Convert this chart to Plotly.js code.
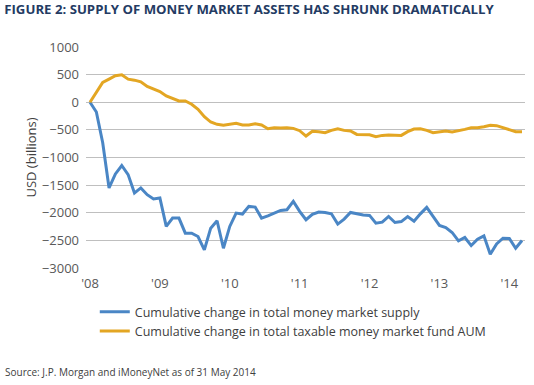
<!DOCTYPE html>
<html>
<head>
<meta charset="utf-8">
<script src="https://cdn.plot.ly/plotly-3.0.1.min.js"></script>
<style>html,body{margin:0;padding:0;background:#fff;}#chart{width:534px;height:385px;}</style>
</head>
<body>
<div id="chart"></div>
<script>
// Data points (sequential observations, Jan 2008 onward)
var supplyChange = [0,-176,-733,-1551,-1297,-1145,-1309,-1642,-1551,-1673,-1751,-1733,-2248,-2097,-2097,-2370,-2370,-2430,-2673,-2279,-2145,-2643,-2248,-2006,-2024,-1885,-1897,-2097,-2055,-2006,-1958,-1945,-1794,-1976,-2127,-2030,-1988,-1994,-2018,-2206,-2115,-1994,-2024,-2042,-2048,-2188,-2170,-2067,-2176,-2160,-2070,-2155,-2020,-1903,-2067,-2230,-2267,-2357,-2509,-2448,-2594,-2479,-2418,-2751,-2563,-2460,-2467,-2642,-2503];
var aumChange = [0,176,358,418,479,497,418,400,370,285,236,194,115,67,24,24,-36,-127,-261,-358,-400,-418,-406,-382,-412,-412,-388,-412,-479,-461,-467,-461,-473,-515,-612,-527,-533,-552,-509,-479,-509,-521,-582,-588,-588,-624,-600,-594,-594,-600,-533,-485,-480,-509,-552,-540,-521,-540,-521,-491,-461,-461,-442,-418,-424,-461,-509,-533,-533];
var tickPositions = [0,11,22,33,44,55,66];
var tickLabels = ["'08","'09","'10","'11","'12","'13","'14"];
var seriesNames = ["Cumulative change in total money market supply","Cumulative change in total taxable money market fund AUM"];

var idx = supplyChange.map(function(_, i){ return i; });
var font = "Open Sans, Liberation Sans, sans-serif";

var traces = [
  {x: idx, y: supplyChange, type:'scatter', mode:'lines', name: seriesNames[0],
   line:{color:'#4A86C5', width:3}},
  {x: idx, y: aumChange, type:'scatter', mode:'lines', name: seriesNames[1],
   line:{color:'#E3A623', width:3}}
];

var layout = {
  width:534, height:385,
  margin:{l:86, r:9, t:47, b:117},
  paper_bgcolor:'#fff', plot_bgcolor:'#fff',
  font:{family:font, color:'#595959', size:13},
  showlegend:true,
  title:{text:'<b>FIGURE 2: SUPPLY OF MONEY MARKET ASSETS HAS SHRUNK DRAMATICALLY</b>',
    x:0.008, xanchor:'left', xref:'container', y:0.988, yanchor:'top', yref:'container',
    font:{family:font, size:13.2, color:'#243B63'}},
  xaxis:{range:[-0.63,68.47], tickmode:'array', tickvals:tickPositions, ticktext:tickLabels,
    showgrid:false, zeroline:false, showline:false, ticks:'', ticklabelstandoff:6,
    tickfont:{size:13, color:'#595959'}},
  yaxis:{range:[-3000,1000], tickmode:'array', tickvals:[1000,500,0,-500,-1000,-1500,-2000,-2500,-3000],
    showgrid:true, gridcolor:'#BFBFBF', gridwidth:1, zeroline:false, showline:false, ticks:'',
    ticklabelstandoff:6, tickfont:{size:13, color:'#595959'},
    title:{text:'USD (billions)', font:{size:13, color:'#404040'}, standoff:2}},
  legend:{x:0.02, xanchor:'left', y:-0.132, yanchor:'top', bgcolor:'rgba(0,0,0,0)',
    font:{size:12.5, color:'#404040'}, itemwidth:30, tracegroupgap:0},
  annotations:[{text:'Source: J.P. Morgan and iMoneyNet as of 31 May 2014', xref:'paper', yref:'paper',
    x:-0.188, xanchor:'left', y:-0.47, yanchor:'middle', showarrow:false,
    font:{family:font, size:10, color:'#404040'}}]
};

Plotly.newPlot('chart', traces, layout, {displayModeBar:false, staticPlot:true});
</script>
</body>
</html>
